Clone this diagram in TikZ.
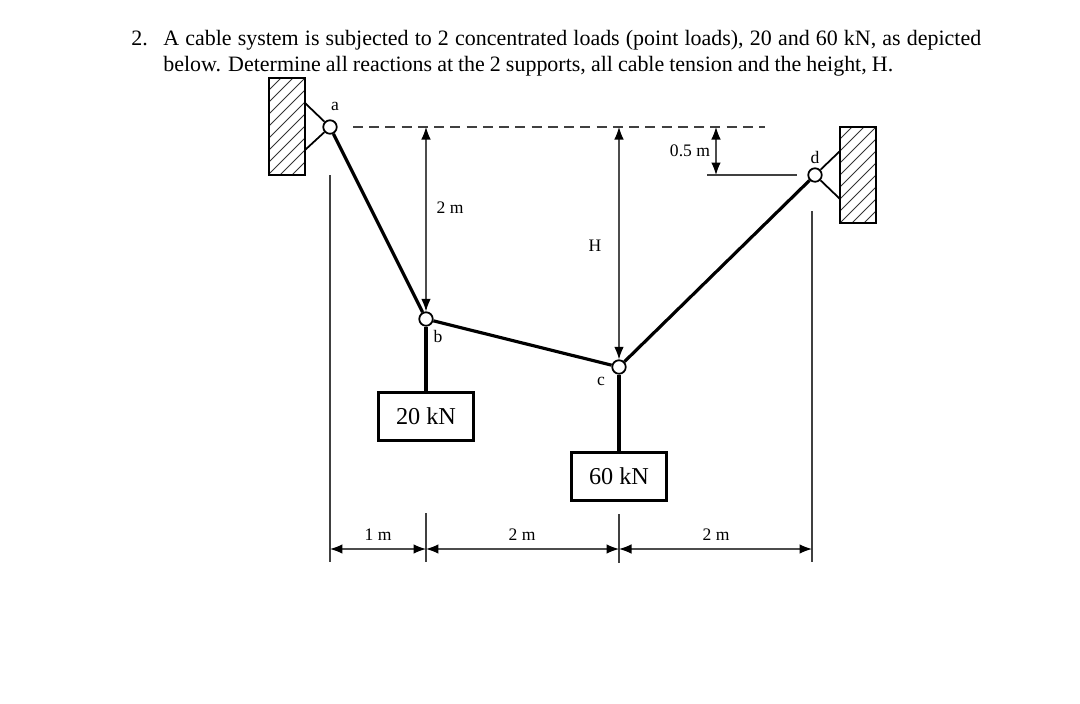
\documentclass[tikz,border=0pt]{standalone}
\usepackage{fontspec}
\setmainfont{Liberation Serif}
\usetikzlibrary{arrows.meta}
\tikzset{
	joint/.style={circle,draw,fill=white,line width=1pt,minimum size=0.27cm,inner sep=0pt},
	cable/.style={line width=1.8pt},
	brace/.style={line width=1pt},
	thin line/.style={line width=0.7pt,black!75},
	dim/.style={line width=0.7pt,black!70,{Latex[length=0.25cm,width=0.19cm,black]}-{Latex[length=0.25cm,width=0.19cm,black]}},
	load/.style={draw,line width=1.5pt,minimum width=1.9cm,minimum height=0.96cm,inner sep=0pt,font=\fontsize{13.8}{15}\selectfont},
	lbl/.style={inner sep=0pt,font=\fontsize{10}{12}\selectfont},
	prob/.style={inner sep=0pt,anchor=base west,font=\fontsize{12.5}{14}\selectfont}
}
\begin{document}
\begin{tikzpicture}[x=0.02cm,y=-0.02cm]
	\useasboundingbox (0,0) rectangle (1080,704);
	% problem text
	\node[prob] (num) at (131,45) {2.};
	\node[prob] (lineone) at (163,45) {\hbox to 16.36cm{A cable system is subjected to 2 concentrated loads (point loads), 20 and 60 kN, as depicted}};
	\node[prob] (linetwo) at (163,71) {\hbox to 14.6cm{below. Determine all reactions at the 2 supports, all cable tension and the height, H.}};
	% walls
	\begin{scope}
		\clip (269,78) rectangle (305,175);
		\foreach \Y in {78,90,...,222}
		{\draw[line width=0.5pt,black!80] (269,\Y) -- ++(50,-50);}
	\end{scope}
	\begin{scope}
		\clip (840,127) rectangle (876,223);
		\foreach \Y in {127,139,...,271}
		{\draw[line width=0.5pt,black!80] (840,\Y) -- ++(50,-50);}
	\end{scope}
	\draw[brace] (269,78) rectangle (305,175);
	\draw[brace] (840,127) rectangle (876,223);
	% joints and their places
	\coordinate (wa1) at (305,103);
	\coordinate (wa2) at (305,150);
	\coordinate (wd1) at (840,151);
	\coordinate (wd2) at (840,199);
	\node[joint] (a) at (330,127) {};
	\node[joint] (b) at (426,319) {};
	\node[joint] (c) at (619,367) {};
	\node[joint] (d) at (815,175) {};
	\node[load] (twenty) at (426,416.5) {20 kN};
	\node[load] (sixty) at (619,476.5) {60 kN};
	% dimension points
	\coordinate (dashl) at (353,127);
	\coordinate (dashr) at (765,127);
	\coordinate (topb) at (426,127);
	\coordinate (topc) at (619,127);
	\coordinate (topd) at (716,127);
	\coordinate (botd) at (716,175);
	\coordinate (levl) at (707,175);
	\coordinate (levr) at (797,175);
	\coordinate (ex1a) at (330,175);
	\coordinate (ex1b) at (330,562);
	\coordinate (ex2a) at (426,513);
	\coordinate (ex2b) at (426,562);
	\coordinate (ex3a) at (619,514);
	\coordinate (ex3b) at (619,563);
	\coordinate (ex4a) at (812,211);
	\coordinate (ex4b) at (812,562);
	\coordinate (d1) at (330,549);
	\coordinate (d2) at (426,549);
	\coordinate (d3) at (619,549);
	\coordinate (d4) at (812,549);
	% supports
	\draw[brace] (wa1) -- (a) -- (wa2);
	\draw[brace] (wd1) -- (d) -- (wd2);
	% cable
	\draw[cable] (a) -- (b);
	\draw[cable] (b) -- (c);
	\draw[cable] (c) -- (d);
	\draw[cable] (b) -- (twenty);
	\draw[cable] (c) -- (sixty);
	% dimensions
	\draw[thin line,dash pattern=on 0.2cm off 0.125cm] (dashl) -- (dashr);
	\draw[dim] (topb) -- (b.north);
	\draw[dim] (topc) -- (c.north);
	\draw[dim] (topd) -- (botd);
	\draw[thin line] (levl) -- (levr);
	\draw[thin line] (ex1a) -- (ex1b);
	\draw[thin line] (ex2a) -- (ex2b);
	\draw[thin line] (ex3a) -- (ex3b);
	\draw[thin line] (ex4a) -- (ex4b);
	\draw[dim] (d1) -- (d2);
	\draw[dim] (d2) -- (d3);
	\draw[dim] (d3) -- (d4);
	% labels
	\node[lbl] (la) at (335,106) {a};
	\node[lbl] (lb) at (438,336) {b};
	\node[lbl] (lc) at (601,381) {c};
	\node[lbl] (ld) at (815,157) {d};
	\node[lbl] (ltwo) at (450,208) {2 m};
	\node[lbl] (lh) at (595,246) {H};
	\node[lbl] (lhalf) at (690,151) {0.5 m};
	\node[lbl] (lone) at (378,535) {1 m};
	\node[lbl] (ltwob) at (522,535) {2 m};
	\node[lbl] (ltwoc) at (716,535) {2 m};
\end{tikzpicture}
\end{document}
